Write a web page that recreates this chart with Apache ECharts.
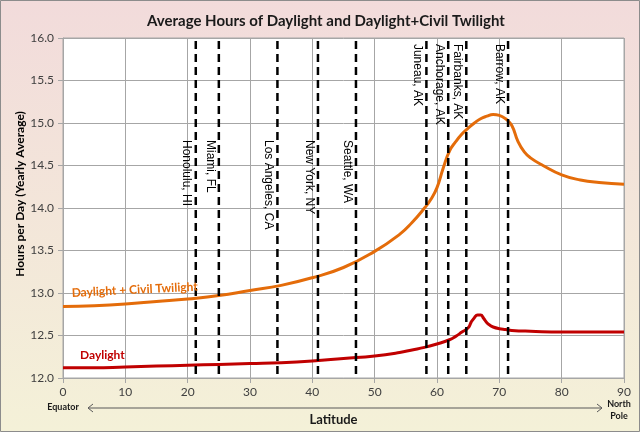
<!DOCTYPE html>
<html>
<head>
<meta charset="utf-8">
<script src="https://cdn.jsdelivr.net/npm/echarts@6/dist/echarts.min.js"></script>
<style>html,body{margin:0;padding:0;}#c{width:640px;height:432px;}</style>
</head>
<body>
<div id="c"></div>
<script>
// ---- data ----
const twilightLat   = [0, 5, 10, 15, 20, 25, 30, 35, 40, 45, 50, 54, 56, 58, 59, 60, 61, 62, 63, 64, 65, 66, 67, 68, 69, 70, 71, 72, 73, 74, 75, 77, 80, 83, 86, 90];
const twilightHours = [12.84, 12.85, 12.87, 12.90, 12.93, 12.97, 13.03, 13.09, 13.18, 13.30, 13.49, 13.69, 13.83, 14.00, 14.10, 14.24, 14.47, 14.67, 14.78, 14.87, 14.94, 15.00, 15.05, 15.08, 15.10, 15.09, 15.05, 14.97, 14.78, 14.66, 14.59, 14.50, 14.39, 14.33, 14.30, 14.28];
const daylightLat   = [0, 5, 10, 15, 20, 25, 30, 35, 40, 45, 50, 54, 56, 58, 60, 62, 63, 64, 65, 65.5, 66, 66.5, 67, 67.5, 68, 68.5, 69, 70, 71, 72, 75, 80, 85, 90];
const daylightHours = [12.12, 12.12, 12.13, 12.14, 12.15, 12.16, 12.17, 12.18, 12.20, 12.23, 12.26, 12.30, 12.33, 12.36, 12.40, 12.45, 12.49, 12.54, 12.59, 12.66, 12.71, 12.74, 12.74, 12.70, 12.65, 12.62, 12.60, 12.58, 12.57, 12.56, 12.55, 12.54, 12.54, 12.54];
const cityNames = ['Honolulu, HI', 'Miami, FL', 'Los Angeles, CA', 'New York, NY', 'Seattle, WA', 'Juneau, AK', 'Anchorage, AK', 'Fairbanks, AK', 'Barrow, AK'];
const cityLat   = [21.3, 25.0, 34.4, 40.9, 47.0, 58.3, 61.8, 64.7, 71.4];
const yTicks = [12, 16, 0.5];   // min, max, interval
const xTicks = [0, 90, 10];

const chart = echarts.init(document.getElementById('c'), null, {renderer: 'canvas'});
const FONT = 'Lato, "Open Sans", sans-serif';

const option = {
  animation: false,
  backgroundColor: new echarts.graphic.LinearGradient(0, 0, 0, 1, [
    {offset: 0, color: '#f2dbdb'}, {offset: 1, color: '#f4f1d8'}
  ]),
  title: {
    text: 'Average Hours of Daylight and Daylight+Civil Twilight',
    left: 321, top: 9, textAlign: 'center',
    textStyle: {fontFamily: FONT, fontSize: 15, fontWeight: 'bold', color: '#1a1a1a'}
  },
  grid: {left: 63, right: 16, top: 38, bottom: 54, show: true, backgroundColor: '#ffffff', borderColor: '#a6a6a6', borderWidth: 1},
  xAxis: {
    type: 'value', min: xTicks[0], max: xTicks[1], interval: xTicks[2],
    name: 'Latitude', nameLocation: 'middle', nameGap: 35,
    nameTextStyle: {fontFamily: FONT, fontSize: 13, fontWeight: 'bold', color: '#1a1a1a', padding: [0, 0, 0, -20]},
    axisLine: {show: true, lineStyle: {color: '#a6a6a6'}},
    axisTick: {show: true, length: 5, lineStyle: {color: '#a6a6a6'}},
    axisLabel: {fontFamily: FONT, fontSize: 12, color: '#404040', margin: 8},
    splitLine: {show: true, lineStyle: {color: '#a6a6a6', width: 1}}
  },
  yAxis: {
    type: 'value', min: yTicks[0], max: yTicks[1], interval: yTicks[2],
    axisLine: {show: true, lineStyle: {color: '#a6a6a6'}},
    axisTick: {show: true, length: 5, lineStyle: {color: '#a6a6a6'}},
    axisLabel: {fontFamily: FONT, fontSize: 12, color: '#404040', margin: 9, formatter: v => v.toFixed(1)},
    splitLine: {show: true, lineStyle: {color: '#a6a6a6', width: 1}}
  },
  series: [
    {
      type: 'line', name: 'Daylight + Civil Twilight', showSymbol: false, smooth: 0.5,
      data: twilightLat.map((x, i) => [x, twilightHours[i]]),
      lineStyle: {color: '#e46c0a', width: 3}, z: 3
    },
    {
      type: 'line', name: 'Daylight', showSymbol: false, smooth: 0.5,
      data: daylightLat.map((x, i) => [x, daylightHours[i]]),
      lineStyle: {color: '#c00000', width: 3}, z: 3
    },
    {
      type: 'custom', z: 5, encode: {x: 0, y: 1},
      data: cityLat.map(v => [v, yTicks[0]]),
      renderItem: function (params, api) {
        const lat = api.value(0);
        const top = api.coord([lat, yTicks[1]]);
        const bot = api.coord([lat, yTicks[0]]);
        const lab = api.coord([lat, lat > 55 ? 15.93 : 14.8]);
        return {
          type: 'group',
          children: [
            {type: 'line', shape: {x1: top[0], y1: top[1] + 3, x2: bot[0], y2: bot[1]},
             style: {stroke: '#000', lineWidth: 2.5, lineDash: [8, 5]}},
            {type: 'text', x: top[0] - 3, y: lab[1], rotation: -Math.PI / 2,
             style: {text: cityNames[params.dataIndex], fill: '#000', font: '12px "Liberation Sans", Arial, sans-serif', align: 'left', verticalAlign: 'top'}}
          ]
        };
      }
    }
  ],
  graphic: [
    {type: 'rect', shape: {x: 0.5, y: 0.5, width: 639, height: 431}, style: {fill: 'none', stroke: '#8c8c8c', lineWidth: 1}, z: 100},
    {type: 'text', x: 20, y: 194, rotation: Math.PI / 2, style: {text: 'Hours per Day (Yearly Average)', fill: '#000', font: 'bold 12px Lato, sans-serif', align: 'center', verticalAlign: 'middle'}, z: 10},
    {type: 'text', x: 72, y: 299, rotation: 0.05, style: {text: 'Daylight + Civil Twilight', fill: '#e46c0a', font: 'bold 12px Lato, sans-serif', align: 'left', verticalAlign: 'bottom'}, z: 10},
    {type: 'text', x: 80, y: 361, style: {text: 'Daylight', fill: '#c00000', font: 'bold 12px Lato, sans-serif', align: 'left', verticalAlign: 'bottom'}, z: 10},
    {type: 'text', x: 63, y: 407, style: {text: 'Equator', fill: '#1a1a1a', font: 'bold 9px Lato, sans-serif', align: 'center', verticalAlign: 'middle'}, z: 10},
    {type: 'text', x: 619, y: 404, style: {text: 'North', fill: '#1a1a1a', font: 'bold 9px Lato, sans-serif', align: 'center', verticalAlign: 'middle'}, z: 10},
    {type: 'text', x: 619, y: 416, style: {text: 'Pole', fill: '#1a1a1a', font: 'bold 9px Lato, sans-serif', align: 'center', verticalAlign: 'middle'}, z: 10},
    {type: 'line', shape: {x1: 88, y1: 408, x2: 602, y2: 408}, style: {stroke: '#595959', lineWidth: 1}, z: 10},
    {type: 'polyline', shape: {points: [[93, 404], [88, 408], [93, 412]]}, style: {stroke: '#595959', lineWidth: 1, fill: 'none'}, z: 10},
    {type: 'polyline', shape: {points: [[597, 404], [602, 408], [597, 412]]}, style: {stroke: '#595959', lineWidth: 1, fill: 'none'}, z: 10}
  ]
};
chart.setOption(option);
</script>
</body>
</html>
